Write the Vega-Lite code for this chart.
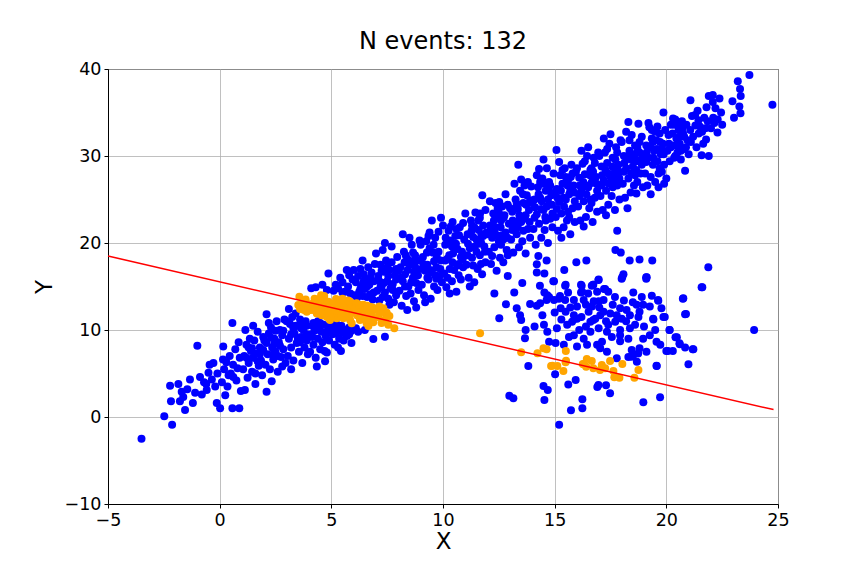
{
"$schema":"https://vega.github.io/schema/vega-lite/v6.json",
"autosize":{"type":"none"},
"width":670,"height":435,
"padding":{"left":108,"top":69,"right":86,"bottom":72},
"background":"white",
"title":{"text":"N events: 132"},
"datasets":{
"blue":[
{"x":-3.5,"y":-2.5},{"x":-2.48,"y":0.1},{"x":-2.13,"y":-0.9},{"x":-2.18,"y":1.8},{"x":-2.22,"y":3.6},
{"x":-1.85,"y":3.8},{"x":-1.78,"y":1.8},{"x":-1.55,"y":0.8},{"x":-1.63,"y":2.3},{"x":-1.33,"y":4.3},{"x":-1.1,"y":2.8},{"x":-1.45,"y":3.2},{"x":-1.2,"y":1.6},{"x":-1.7,"y":2.9},
{"x":-1.0,"y":8.2},{"x":-0.88,"y":4.6},{"x":-0.58,"y":3.1},{"x":-0.28,"y":6.2},{"x":-0.13,"y":1.6},{"x":-0.7,"y":4.0},{"x":-0.5,"y":5.1},{"x":-0.35,"y":4.3},{"x":-0.2,"y":3.5},{"x":-0.8,"y":2.6},{"x":-0.1,"y":5.0},{"x":-0.45,"y":6.0},{"x":-0.6,"y":3.8},
{"x":0.02,"y":1.0},{"x":0.57,"y":1.0},{"x":0.88,"y":1.0},{"x":0.57,"y":10.8},{"x":0.16,"y":8.1},{"x":0.61,"y":4.6},{"x":0.1,"y":4.0},{"x":0.2,"y":5.5},{"x":0.3,"y":6.3},{"x":0.35,"y":3.5},{"x":0.45,"y":7.0},{"x":0.5,"y":5.0},{"x":0.6,"y":6.0},{"x":0.7,"y":7.8},{"x":0.75,"y":4.2},{"x":0.8,"y":5.6},{"x":0.9,"y":6.8},{"x":0.95,"y":3.0},{"x":0.25,"y":2.5},{"x":0.4,"y":4.8},{"x":0.85,"y":8.6},{"x":0.15,"y":6.6},
{"x":1.13,"y":3.1},{"x":1.05,"y":5.5},{"x":1.1,"y":7.0},{"x":1.2,"y":8.3},{"x":1.25,"y":4.5},{"x":1.3,"y":6.2},{"x":1.35,"y":9.0},{"x":1.4,"y":7.6},{"x":1.45,"y":5.2},{"x":1.5,"y":6.8},{"x":1.55,"y":8.8},{"x":1.6,"y":3.8},{"x":1.65,"y":7.3},{"x":1.7,"y":9.8},{"x":1.75,"y":5.9},{"x":1.8,"y":8.0},{"x":1.85,"y":6.5},{"x":1.9,"y":4.8},{"x":1.95,"y":9.2},{"x":1.15,"y":10.0},{"x":1.5,"y":10.5},{"x":1.6,"y":5.0},{"x":1.8,"y":7.2},{"x":1.3,"y":8.0},{"x":1.95,"y":7.7},
{"x":2.1,"y":2.9},{"x":2.33,"y":4.1},{"x":2.1,"y":11.8},{"x":2.05,"y":6.0},{"x":2.1,"y":8.5},{"x":2.15,"y":7.2},{"x":2.2,"y":9.6},{"x":2.25,"y":5.5},{"x":2.3,"y":10.3},{"x":2.35,"y":8.0},{"x":2.4,"y":6.6},{"x":2.45,"y":9.0},{"x":2.5,"y":7.5},{"x":2.55,"y":11.0},{"x":2.6,"y":5.2},{"x":2.65,"y":8.6},{"x":2.7,"y":10.0},{"x":2.75,"y":6.9},{"x":2.8,"y":9.4},{"x":2.85,"y":7.8},{"x":2.9,"y":11.2},{"x":2.95,"y":6.2},{"x":2.2,"y":10.8},{"x":2.5,"y":9.9},{"x":2.7,"y":8.2},{"x":2.4,"y":7.2},{"x":2.8,"y":5.8},
{"x":3.05,"y":7.0},{"x":3.1,"y":9.0},{"x":3.15,"y":10.7},{"x":3.2,"y":8.0},{"x":3.25,"y":11.5},{"x":3.3,"y":6.5},{"x":3.35,"y":9.6},{"x":3.4,"y":11.9},{"x":3.45,"y":8.5},{"x":3.5,"y":10.5},{"x":3.55,"y":7.5},{"x":3.6,"y":11.2},{"x":3.65,"y":9.2},{"x":3.7,"y":6.2},{"x":3.75,"y":10.0},{"x":3.8,"y":8.0},{"x":3.85,"y":11.0},{"x":3.9,"y":9.5},{"x":3.95,"y":7.2},{"x":3.1,"y":12.4},{"x":3.3,"y":10.2},{"x":3.5,"y":9.0},{"x":3.7,"y":10.8},{"x":3.9,"y":10.5},{"x":3.2,"y":5.5},{"x":3.6,"y":8.6},{"x":3.0,"y":11.0},
{"x":4.05,"y":7.5},{"x":4.1,"y":9.5},{"x":4.15,"y":10.5},{"x":4.2,"y":8.3},{"x":4.3,"y":6.8},{"x":4.35,"y":5.8},{"x":4.4,"y":9.0},{"x":4.45,"y":10.2},{"x":4.5,"y":7.8},{"x":4.55,"y":9.8},{"x":4.6,"y":8.6},{"x":4.65,"y":10.6},{"x":4.72,"y":6.4},{"x":4.75,"y":9.3},{"x":4.8,"y":7.4},{"x":4.85,"y":10.4},{"x":4.87,"y":16.5},{"x":4.9,"y":8.8},{"x":4.95,"y":9.9},{"x":4.3,"y":14.9},{"x":4.6,"y":15.2},{"x":4.8,"y":14.6},{"x":4.2,"y":10.8},{"x":4.7,"y":7.6},{"x":4.4,"y":11.0},{"x":4.1,"y":14.8},
{"x":5.43,"y":7.6},{"x":5.69,"y":16.9},{"x":5.05,"y":9.5},{"x":5.1,"y":14.5},{"x":5.15,"y":8.3},{"x":5.2,"y":15.2},{"x":5.25,"y":10.2},{"x":5.3,"y":14.8},{"x":5.35,"y":9.0},{"x":5.4,"y":16.0},{"x":5.45,"y":10.5},{"x":5.5,"y":15.5},{"x":5.55,"y":8.8},{"x":5.6,"y":14.4},{"x":5.65,"y":10.0},{"x":5.7,"y":9.3},{"x":5.75,"y":15.0},{"x":5.8,"y":10.3},{"x":5.85,"y":14.2},{"x":5.9,"y":8.5},{"x":5.95,"y":15.8},{"x":5.0,"y":10.6},{"x":5.3,"y":8.0},{"x":5.6,"y":9.6},{"x":5.9,"y":9.9},{"x":5.2,"y":10.8},{"x":5.5,"y":14.3},{"x":5.8,"y":16.3},
{"x":6.88,"y":8.97},{"x":6.05,"y":14.0},{"x":6.1,"y":15.5},{"x":6.2,"y":16.2},{"x":6.25,"y":14.4},{"x":6.3,"y":17.0},{"x":6.35,"y":15.0},{"x":6.4,"y":13.9},{"x":6.45,"y":16.4},{"x":6.5,"y":14.7},{"x":6.55,"y":15.8},{"x":6.6,"y":13.8},{"x":6.65,"y":17.2},{"x":6.7,"y":15.2},{"x":6.75,"y":14.1},{"x":6.8,"y":16.6},{"x":6.85,"y":13.5},{"x":6.9,"y":15.6},{"x":6.95,"y":17.6},{"x":6.2,"y":9.8},{"x":6.5,"y":10.0},{"x":6.0,"y":16.9},{"x":6.4,"y":18.0},{"x":6.75,"y":16.0},{"x":6.15,"y":13.7},
{"x":7.4,"y":20.0},{"x":7.4,"y":9.23},{"x":7.05,"y":14.5},{"x":7.1,"y":16.2},{"x":7.15,"y":13.4},{"x":7.2,"y":17.5},{"x":7.25,"y":15.0},{"x":7.3,"y":13.8},{"x":7.35,"y":16.7},{"x":7.4,"y":14.3},{"x":7.45,"y":18.0},{"x":7.5,"y":15.6},{"x":7.55,"y":13.6},{"x":7.6,"y":16.9},{"x":7.65,"y":14.8},{"x":7.7,"y":17.8},{"x":7.75,"y":15.3},{"x":7.8,"y":13.2},{"x":7.85,"y":16.3},{"x":7.9,"y":14.0},{"x":7.95,"y":18.4},{"x":7.0,"y":18.8},{"x":7.3,"y":19.2},{"x":7.6,"y":12.9},{"x":7.7,"y":19.6},{"x":7.2,"y":14.9},{"x":7.5,"y":17.2},{"x":7.9,"y":15.8},
{"x":8.05,"y":14.5},{"x":8.1,"y":17.2},{"x":8.15,"y":12.8},{"x":8.2,"y":15.6},{"x":8.25,"y":19.0},{"x":8.3,"y":16.4},{"x":8.35,"y":13.9},{"x":8.4,"y":18.2},{"x":8.45,"y":15.0},{"x":8.5,"y":17.5},{"x":8.55,"y":14.2},{"x":8.6,"y":19.8},{"x":8.65,"y":16.0},{"x":8.7,"y":13.3},{"x":8.75,"y":18.6},{"x":8.8,"y":15.4},{"x":8.85,"y":17.0},{"x":8.9,"y":14.6},{"x":8.95,"y":20.3},{"x":8.0,"y":16.8},{"x":8.2,"y":21.0},{"x":8.4,"y":12.3},{"x":8.6,"y":17.9},{"x":8.8,"y":12.6},{"x":8.3,"y":15.0},{"x":8.7,"y":16.7},{"x":8.5,"y":20.6},{"x":8.9,"y":18.0},
{"x":9.05,"y":15.2},{"x":9.1,"y":18.4},{"x":9.15,"y":14.0},{"x":9.2,"y":16.8},{"x":9.25,"y":20.2},{"x":9.3,"y":17.5},{"x":9.35,"y":15.8},{"x":9.4,"y":19.4},{"x":9.45,"y":13.6},{"x":9.5,"y":22.6},{"x":9.5,"y":16.6},{"x":9.55,"y":18.9},{"x":9.6,"y":15.0},{"x":9.65,"y":20.6},{"x":9.7,"y":17.2},{"x":9.75,"y":14.6},{"x":9.8,"y":19.0},{"x":9.85,"y":16.2},{"x":9.91,"y":22.9},{"x":9.9,"y":18.0},{"x":9.95,"y":15.5},{"x":9.0,"y":19.8},{"x":9.2,"y":13.2},{"x":9.4,"y":21.2},{"x":9.6,"y":17.9},{"x":9.8,"y":21.3},{"x":9.3,"y":16.0},{"x":9.7,"y":15.9},{"x":9.1,"y":17.0},
{"x":10.05,"y":16.5},{"x":10.1,"y":19.8},{"x":10.15,"y":14.9},{"x":10.2,"y":18.2},{"x":10.25,"y":21.4},{"x":10.3,"y":17.0},{"x":10.35,"y":20.3},{"x":10.43,"y":22.4},{"x":10.4,"y":15.6},{"x":10.45,"y":18.8},{"x":10.5,"y":16.9},{"x":10.55,"y":20.8},{"x":10.6,"y":14.4},{"x":10.65,"y":19.3},{"x":10.7,"y":17.6},{"x":10.75,"y":21.8},{"x":10.8,"y":15.8},{"x":10.85,"y":19.0},{"x":10.9,"y":17.2},{"x":10.95,"y":20.4},{"x":11.0,"y":23.4},{"x":10.0,"y":22.0},{"x":10.2,"y":16.0},{"x":10.4,"y":19.6},{"x":10.6,"y":21.6},{"x":10.8,"y":18.4},{"x":10.3,"y":14.2},{"x":10.7,"y":16.3},{"x":10.9,"y":22.3},{"x":10.1,"y":18.0},
{"x":11.05,"y":17.5},{"x":11.1,"y":21.0},{"x":11.15,"y":16.0},{"x":11.2,"y":19.4},{"x":11.25,"y":22.6},{"x":11.3,"y":18.3},{"x":11.35,"y":20.7},{"x":11.4,"y":15.5},{"x":11.45,"y":23.5},{"x":11.5,"y":19.0},{"x":11.55,"y":17.0},{"x":11.6,"y":21.5},{"x":11.66,"y":23.4},{"x":11.65,"y":18.6},{"x":11.7,"y":20.1},{"x":11.75,"y":16.4},{"x":11.76,"y":25.5},{"x":11.8,"y":22.0},{"x":11.85,"y":19.6},{"x":11.9,"y":17.8},{"x":11.95,"y":21.2},{"x":11.1,"y":18.6},{"x":11.3,"y":22.0},{"x":11.5,"y":20.4},{"x":11.7,"y":17.6},{"x":11.9,"y":23.8},{"x":11.2,"y":15.0},{"x":11.6,"y":19.9},{"x":11.4,"y":21.8},{"x":11.8,"y":20.8},
{"x":12.05,"y":19.0},{"x":12.1,"y":24.8},{"x":12.1,"y":22.0},{"x":12.15,"y":17.6},{"x":12.2,"y":20.6},{"x":12.25,"y":23.4},{"x":12.3,"y":19.5},{"x":12.35,"y":21.8},{"x":12.4,"y":16.8},{"x":12.45,"y":24.0},{"x":12.52,"y":24.7},{"x":12.5,"y":20.2},{"x":12.55,"y":18.3},{"x":12.6,"y":22.6},{"x":12.65,"y":20.9},{"x":12.7,"y":17.8},{"x":12.75,"y":23.2},{"x":12.8,"y":21.2},{"x":12.85,"y":19.2},{"x":12.9,"y":24.4},{"x":12.95,"y":22.2},{"x":12.0,"y":21.0},{"x":12.2,"y":18.5},{"x":12.4,"y":22.9},{"x":12.6,"y":19.8},{"x":12.8,"y":25.6},{"x":12.3,"y":21.2},{"x":12.7,"y":20.4},{"x":12.9,"y":18.6},{"x":12.5,"y":23.5},
{"x":13.05,"y":20.4},{"x":13.1,"y":23.6},{"x":13.15,"y":18.9},{"x":13.2,"y":22.0},{"x":13.25,"y":25.0},{"x":13.37,"y":29.0},{"x":13.3,"y":21.0},{"x":13.35,"y":23.9},{"x":13.4,"y":19.5},{"x":13.45,"y":26.0},{"x":13.5,"y":22.4},{"x":13.55,"y":20.2},{"x":13.6,"y":24.6},{"x":13.65,"y":22.8},{"x":13.7,"y":18.8},{"x":13.75,"y":25.5},{"x":13.8,"y":21.6},{"x":13.85,"y":23.8},{"x":13.9,"y":20.6},{"x":13.95,"y":26.5},{"x":13.0,"y":24.0},{"x":13.2,"y":26.8},{"x":13.4,"y":22.6},{"x":13.6,"y":21.4},{"x":13.8,"y":27.0},{"x":13.1,"y":21.5},{"x":13.3,"y":24.5},{"x":13.5,"y":27.3},{"x":13.7,"y":23.2},{"x":13.9,"y":24.9},
{"x":14.05,"y":21.6},{"x":14.1,"y":25.0},{"x":14.15,"y":19.8},{"x":14.2,"y":23.3},{"x":14.25,"y":26.4},{"x":14.3,"y":22.2},{"x":14.35,"y":25.2},{"x":14.4,"y":20.6},{"x":14.45,"y":27.4},{"x":14.5,"y":29.6},{"x":14.5,"y":23.8},{"x":14.55,"y":21.5},{"x":14.6,"y":26.0},{"x":14.65,"y":24.2},{"x":14.7,"y":20.0},{"x":14.75,"y":27.0},{"x":14.8,"y":22.8},{"x":14.85,"y":25.5},{"x":14.9,"y":21.8},{"x":14.95,"y":28.0},{"x":14.0,"y":24.6},{"x":14.2,"y":27.8},{"x":14.4,"y":23.9},{"x":14.6,"y":22.6},{"x":14.8,"y":26.6},{"x":14.3,"y":28.5},{"x":14.7,"y":25.0},{"x":14.9,"y":23.4},{"x":14.1,"y":22.9},{"x":14.5,"y":26.8},
{"x":15.08,"y":30.7},{"x":15.05,"y":23.0},{"x":15.1,"y":26.2},{"x":15.15,"y":21.4},{"x":15.2,"y":24.7},{"x":15.25,"y":27.8},{"x":15.3,"y":23.4},{"x":15.35,"y":26.8},{"x":15.4,"y":21.8},{"x":15.45,"y":28.6},{"x":15.5,"y":25.0},{"x":15.55,"y":22.6},{"x":15.6,"y":27.2},{"x":15.65,"y":25.6},{"x":15.7,"y":21.0},{"x":15.75,"y":29.0},{"x":15.8,"y":24.0},{"x":15.85,"y":26.6},{"x":15.9,"y":22.4},{"x":15.95,"y":28.2},{"x":15.0,"y":25.8},{"x":15.2,"y":29.3},{"x":15.4,"y":25.2},{"x":15.6,"y":23.6},{"x":15.8,"y":28.0},{"x":15.3,"y":20.6},{"x":15.7,"y":26.0},{"x":15.9,"y":24.8},{"x":15.1,"y":23.9},{"x":15.5,"y":27.6},
{"x":16.05,"y":24.2},{"x":16.1,"y":27.5},{"x":16.15,"y":22.6},{"x":16.2,"y":26.0},{"x":16.25,"y":29.1},{"x":16.3,"y":24.8},{"x":16.35,"y":27.9},{"x":16.4,"y":23.0},{"x":16.45,"y":30.0},{"x":16.5,"y":26.4},{"x":16.55,"y":24.0},{"x":16.6,"y":28.4},{"x":16.65,"y":26.9},{"x":16.7,"y":22.4},{"x":16.75,"y":29.8},{"x":16.8,"y":25.2},{"x":16.85,"y":27.6},{"x":16.9,"y":23.6},{"x":16.95,"y":30.4},{"x":16.0,"y":28.6},{"x":16.2,"y":30.6},{"x":16.4,"y":26.6},{"x":16.6,"y":25.0},{"x":16.8,"y":29.2},{"x":16.3,"y":21.9},{"x":16.7,"y":27.2},{"x":16.9,"y":26.0},{"x":16.1,"y":25.4},{"x":16.5,"y":31.0},{"x":16.65,"y":28.6},
{"x":17.05,"y":25.4},{"x":17.1,"y":28.8},{"x":17.15,"y":23.8},{"x":17.2,"y":27.2},{"x":17.25,"y":30.4},{"x":17.3,"y":26.0},{"x":17.35,"y":29.2},{"x":17.4,"y":24.4},{"x":17.45,"y":31.4},{"x":17.5,"y":27.6},{"x":17.55,"y":25.4},{"x":17.6,"y":29.8},{"x":17.65,"y":28.0},{"x":17.7,"y":23.8},{"x":17.75,"y":31.0},{"x":17.8,"y":26.6},{"x":17.8,"y":21.4},{"x":17.85,"y":29.0},{"x":17.9,"y":25.0},{"x":17.95,"y":31.8},{"x":17.0,"y":30.0},{"x":17.2,"y":32.0},{"x":17.4,"y":28.0},{"x":17.6,"y":26.4},{"x":17.8,"y":30.4},{"x":17.3,"y":23.2},{"x":17.7,"y":28.6},{"x":17.9,"y":27.4},{"x":17.1,"y":26.6},{"x":17.5,"y":32.5},
{"x":18.05,"y":26.8},{"x":18.1,"y":30.0},{"x":18.15,"y":25.2},{"x":18.26,"y":24.0},{"x":18.2,"y":28.6},{"x":18.3,"y":33.9},{"x":18.3,"y":27.4},{"x":18.35,"y":30.6},{"x":18.4,"y":25.8},{"x":18.45,"y":32.4},{"x":18.5,"y":28.8},{"x":18.55,"y":26.6},{"x":18.6,"y":31.2},{"x":18.66,"y":25.7},{"x":18.65,"y":29.4},{"x":18.75,"y":33.7},{"x":18.7,"y":27.0},{"x":18.8,"y":30.4},{"x":18.85,"y":28.0},{"x":18.9,"y":32.2},{"x":18.95,"y":26.4},{"x":18.0,"y":31.6},{"x":18.2,"y":32.8},{"x":18.4,"y":29.6},{"x":18.6,"y":27.8},{"x":18.8,"y":31.6},{"x":18.5,"y":30.2},{"x":18.9,"y":29.0},{"x":18.1,"y":28.2},{"x":18.7,"y":31.0},
{"x":19.05,"y":28.0},{"x":19.1,"y":31.2},{"x":19.15,"y":26.6},{"x":19.24,"y":33.3},{"x":19.2,"y":29.8},{"x":19.3,"y":27.6},{"x":19.35,"y":32.0},{"x":19.4,"y":29.0},{"x":19.45,"y":30.6},{"x":19.5,"y":27.0},{"x":19.55,"y":31.8},{"x":19.6,"y":29.4},{"x":19.65,"y":26.4},{"x":19.7,"y":32.6},{"x":19.75,"y":30.2},{"x":19.8,"y":28.2},{"x":19.87,"y":35.0},{"x":19.85,"y":31.4},{"x":19.9,"y":29.0},{"x":19.95,"y":33.0},{"x":19.0,"y":30.0},{"x":19.2,"y":33.8},{"x":19.4,"y":31.6},{"x":19.6,"y":33.4},{"x":19.8,"y":30.8},{"x":19.3,"y":25.6},{"x":19.7,"y":28.6},{"x":19.9,"y":26.8},{"x":19.1,"y":29.3},{"x":19.5,"y":32.8},
{"x":20.0,"y":27.4},{"x":20.05,"y":30.6},{"x":20.1,"y":32.4},{"x":20.15,"y":29.4},{"x":20.2,"y":33.6},{"x":20.3,"y":34.3},{"x":20.25,"y":31.2},{"x":20.35,"y":29.8},{"x":20.4,"y":34.2},{"x":20.45,"y":32.0},{"x":20.5,"y":30.4},{"x":20.55,"y":33.0},{"x":20.6,"y":31.4},{"x":20.7,"y":34.0},{"x":20.65,"y":29.6},{"x":20.75,"y":32.6},{"x":20.84,"y":28.3},{"x":20.8,"y":30.8},{"x":20.9,"y":33.6},{"x":20.95,"y":31.8},{"x":20.2,"y":31.0},{"x":20.6,"y":33.6},{"x":20.4,"y":30.0},{"x":20.8,"y":32.2},{"x":21.0,"y":30.2},
{"x":21.08,"y":36.4},{"x":21.07,"y":33.0},{"x":21.29,"y":34.7},{"x":21.44,"y":34.1},{"x":21.5,"y":33.4},{"x":21.6,"y":32.8},{"x":21.3,"y":33.5},{"x":21.58,"y":30.1},{"x":21.9,"y":30.0},{"x":21.78,"y":31.9},{"x":21.9,"y":36.9},{"x":21.1,"y":31.6},{"x":21.2,"y":32.2},{"x":21.35,"y":31.0},{"x":21.4,"y":35.2},{"x":21.7,"y":34.4},{"x":21.75,"y":33.2},{"x":21.8,"y":35.6},{"x":21.15,"y":34.6},{"x":21.65,"y":31.4},{"x":21.45,"y":32.6},{"x":21.85,"y":34.0},
{"x":22.08,"y":37.0},{"x":22.38,"y":36.6},{"x":22.08,"y":36.2},{"x":22.2,"y":35.5},{"x":22.1,"y":34.4},{"x":22.29,"y":32.7},{"x":22.96,"y":36.3},{"x":23.03,"y":34.4},{"x":22.0,"y":33.2},{"x":22.15,"y":33.8},{"x":22.3,"y":34.2},{"x":22.45,"y":35.0},{"x":22.5,"y":33.6},
{"x":23.72,"y":39.3},{"x":23.2,"y":38.6},{"x":23.3,"y":37.7},{"x":23.33,"y":36.9},{"x":24.75,"y":35.9},{"x":23.27,"y":35.7},{"x":23.32,"y":34.9},
{"x":8.12,"y":16.0},{"x":8.28,"y":17.8},{"x":8.42,"y":16.9},{"x":8.58,"y":15.5},{"x":8.72,"y":17.4},{"x":8.88,"y":16.3},{"x":8.33,"y":18.6},{"x":8.66,"y":18.9},
{"x":9.12,"y":17.6},{"x":9.28,"y":18.9},{"x":9.42,"y":16.9},{"x":9.58,"y":19.8},{"x":9.72,"y":18.4},{"x":9.88,"y":17.0},{"x":9.35,"y":20.8},{"x":9.65,"y":16.3},
{"x":10.12,"y":20.6},{"x":10.28,"y":18.6},{"x":10.42,"y":17.8},{"x":10.58,"y":19.9},{"x":10.72,"y":20.9},{"x":10.88,"y":18.1},{"x":10.35,"y":21.9},{"x":10.65,"y":17.4},
{"x":11.12,"y":19.9},{"x":11.28,"y":21.4},{"x":11.42,"y":19.6},{"x":11.58,"y":22.6},{"x":11.72,"y":21.0},{"x":11.88,"y":19.0},{"x":11.35,"y":17.4},{"x":11.65,"y":22.9},
{"x":12.12,"y":21.4},{"x":12.28,"y":22.6},{"x":12.42,"y":20.9},{"x":12.58,"y":21.8},{"x":12.72,"y":22.9},{"x":12.88,"y":20.6},{"x":12.35,"y":24.6},{"x":12.65,"y":24.2},
{"x":13.12,"y":22.6},{"x":13.28,"y":24.0},{"x":13.42,"y":23.2},{"x":13.58,"y":25.6},{"x":13.72,"y":24.4},{"x":13.88,"y":22.4},{"x":13.35,"y":21.8},{"x":13.65,"y":26.6},
{"x":14.12,"y":24.1},{"x":14.28,"y":25.6},{"x":14.42,"y":24.8},{"x":14.58,"y":23.0},{"x":14.72,"y":26.2},{"x":14.88,"y":24.4},{"x":14.35,"y":27.0},{"x":14.65,"y":28.6},
{"x":15.12,"y":25.2},{"x":15.28,"y":26.0},{"x":15.42,"y":24.2},{"x":15.58,"y":26.6},{"x":15.72,"y":27.6},{"x":15.88,"y":25.8},{"x":15.35,"y":28.4},{"x":15.65,"y":23.0},
{"x":16.12,"y":26.6},{"x":16.28,"y":27.0},{"x":16.42,"y":25.6},{"x":16.58,"y":27.8},{"x":16.72,"y":28.2},{"x":16.88,"y":26.8},{"x":16.35,"y":29.4},{"x":16.65,"y":24.6},
{"x":17.12,"y":27.8},{"x":17.28,"y":28.4},{"x":17.42,"y":26.8},{"x":17.58,"y":28.8},{"x":17.72,"y":29.6},{"x":17.88,"y":28.2},{"x":17.35,"y":30.8},{"x":17.65,"y":27.2},
{"x":18.12,"y":29.2},{"x":18.28,"y":29.8},{"x":18.42,"y":28.0},{"x":18.58,"y":30.0},{"x":18.72,"y":30.6},{"x":18.88,"y":29.6},{"x":18.35,"y":31.8},{"x":18.65,"y":28.4},
{"x":19.12,"y":30.4},{"x":19.28,"y":31.0},{"x":19.42,"y":29.8},{"x":19.58,"y":30.8},{"x":19.72,"y":31.6},{"x":19.88,"y":30.2},{"x":19.35,"y":33.0},{"x":19.65,"y":28.0},
{"x":20.12,"y":31.4},{"x":20.28,"y":32.6},{"x":20.42,"y":31.2},{"x":20.58,"y":32.2},{"x":20.72,"y":33.2},{"x":20.88,"y":31.0},{"x":20.35,"y":33.6},{"x":20.65,"y":30.6},
{"x":1.2,"y":6.8},{"x":1.45,"y":7.9},{"x":1.7,"y":6.4},{"x":2.0,"y":8.8},{"x":2.3,"y":9.1},{"x":2.6,"y":7.0},{"x":2.85,"y":9.9},{"x":2.45,"y":8.4},
{"x":3.2,"y":9.5},{"x":3.4,"y":10.5},{"x":3.65,"y":10.2},{"x":3.9,"y":8.8},{"x":4.25,"y":9.9},{"x":4.5,"y":10.8},{"x":4.8,"y":9.8},{"x":4.15,"y":9.2},
{"x":5.2,"y":9.6},{"x":5.5,"y":9.7},{"x":5.8,"y":9.5},{"x":6.1,"y":10.2},{"x":6.3,"y":14.7},{"x":6.6,"y":15.0},{"x":6.9,"y":14.3},{"x":6.45,"y":15.6},
{"x":7.15,"y":15.6},{"x":7.35,"y":15.4},{"x":7.55,"y":16.2},{"x":7.75,"y":14.6},{"x":7.9,"y":17.0},{"x":7.25,"y":16.8},
{"x":17.72,"y":19.2},{"x":17.96,"y":18.9},{"x":18.36,"y":18.0},{"x":18.8,"y":18.1},{"x":19.37,"y":18.0},{"x":21.88,"y":17.2},{"x":15.97,"y":17.8},{"x":16.42,"y":18.0},{"x":14.27,"y":18.5},{"x":14.64,"y":18.0},{"x":14.2,"y":17.55},{"x":14.2,"y":16.6},{"x":14.54,"y":16.5},{"x":15.43,"y":16.9},{"x":13.55,"y":15.4},{"x":14.94,"y":15.6},{"x":15.47,"y":15.1},{"x":14.34,"y":15.1},{"x":13.19,"y":14.3},{"x":14.54,"y":14.3},{"x":14.64,"y":13.45},{"x":14.75,"y":13.8},{"x":15.24,"y":13.9},{"x":12.82,"y":12.95},{"x":14.2,"y":12.8},{"x":14.35,"y":13.07},{"x":13.45,"y":11.7},{"x":13.5,"y":11.15},{"x":12.52,"y":11.34},{"x":13.67,"y":9.05},{"x":13.82,"y":5.86},{"x":12.97,"y":2.45},{"x":13.15,"y":2.15},{"x":14.5,"y":3.56},{"x":14.69,"y":3.1},{"x":14.54,"y":1.95},{"x":15.02,"y":4.9},{"x":15.61,"y":3.75},{"x":15.94,"y":4.25},{"x":15.2,"y":-0.9},{"x":15.73,"y":0.77},{"x":16.24,"y":1.0},{"x":16.24,"y":2.03},{"x":16.91,"y":3.45},{"x":17.3,"y":3.64},{"x":17.48,"y":2.72},{"x":18.97,"y":1.69},{"x":19.72,"y":2.26},{"x":19.57,"y":5.86},{"x":20.99,"y":6.06},{"x":21.21,"y":7.78},{"x":23.93,"y":10.0},{"x":21.61,"y":14.9},{"x":20.76,"y":13.64},{"x":20.88,"y":11.84},{"x":20.14,"y":10.0},{"x":20.47,"y":9.16},{"x":20.6,"y":8.36},{"x":20.84,"y":8.0},{"x":20.29,"y":7.6},{"x":20.0,"y":7.6},{"x":19.87,"y":11.5},{"x":19.64,"y":13.37},{"x":19.35,"y":13.95},{"x":19.1,"y":16.05},{"x":18.52,"y":14.3},{"x":18.03,"y":16.1},{"x":18.08,"y":16.4},{"x":16.96,"y":15.75},{"x":16.66,"y":15.1},{"x":16.21,"y":15.1},{"x":16.18,"y":14.3},{"x":16.5,"y":14.2},{"x":17.21,"y":14.7},{"x":17.4,"y":14.4},{"x":15.47,"y":13.45},{"x":16.73,"y":11.15},{"x":19.42,"y":11.2},{"x":18.75,"y":11.5},{"x":18.45,"y":6.93},{"x":18.68,"y":6.36},{"x":17.78,"y":6.75},{"x":16.96,"y":3.68},{"x":16.73,"y":15.2},{"x":19.12,"y":16.05},
{"x":14.97,"y":15.6},{"x":15.49,"y":15.2},{"x":16.18,"y":15.2},{"x":16.23,"y":14.4},{"x":16.72,"y":15.2},{"x":16.97,"y":15.8},{"x":17.26,"y":14.7},{"x":18.0,"y":15.9},{"x":19.1,"y":15.9},{"x":17.93,"y":12.5},{"x":17.78,"y":11.7},{"x":18.22,"y":12.3},{"x":18.37,"y":11.7},{"x":18.67,"y":12.9},{"x":18.8,"y":12.1},{"x":18.96,"y":12.9},{"x":19.26,"y":12.7},{"x":19.63,"y":13.45},{"x":19.78,"y":12.5},{"x":19.93,"y":11.5},{"x":19.41,"y":11.3},{"x":20.74,"y":13.6},{"x":20.84,"y":11.8},{"x":21.58,"y":14.9},{"x":20.15,"y":10.0},{"x":20.41,"y":9.16},{"x":20.59,"y":8.47},{"x":21.18,"y":7.8},{"x":20.07,"y":7.6},{"x":19.73,"y":8.3},{"x":19.56,"y":8.65},{"x":19.26,"y":9.4},{"x":18.96,"y":9.0},{"x":18.8,"y":7.9},{"x":18.52,"y":7.1},{"x":18.3,"y":6.9},{"x":18.45,"y":7.7},{"x":19.56,"y":5.9},{"x":19.11,"y":7.5},{"x":17.93,"y":8.7},{"x":17.56,"y":9.2},{"x":17.12,"y":8.65},{"x":17.34,"y":9.8},{"x":16.97,"y":10.2},{"x":16.6,"y":9.8},{"x":16.6,"y":10.96},{"x":16.82,"y":11.3},{"x":17.04,"y":11.7},{"x":17.19,"y":12.1},{"x":17.49,"y":11.9},{"x":16.52,"y":12.1},{"x":16.67,"y":12.7},{"x":16.75,"y":13.3},{"x":16.97,"y":13.3},{"x":17.19,"y":13.45},{"x":16.3,"y":13.45},{"x":15.86,"y":13.45},{"x":16.0,"y":12.7},{"x":15.86,"y":11.7},{"x":15.78,"y":10.96},{"x":15.56,"y":10.6},{"x":15.49,"y":12.1},{"x":15.27,"y":12.5},{"x":15.19,"y":13.6},{"x":14.97,"y":13.45},{"x":14.67,"y":14.0},{"x":14.45,"y":11.7},{"x":14.52,"y":10.6},{"x":14.67,"y":9.8},{"x":14.75,"y":8.65},{"x":15.04,"y":8.5},{"x":15.41,"y":8.3},{"x":15.64,"y":9.2},{"x":15.86,"y":9.4},{"x":16.0,"y":8.1},{"x":16.3,"y":9.0},{"x":16.45,"y":8.3},{"x":16.9,"y":8.3},{"x":17.04,"y":7.9},{"x":17.34,"y":7.5},{"x":17.93,"y":10.0},{"x":17.71,"y":10.96},{"x":18.37,"y":10.2},{"x":18.3,"y":9.0},{"x":17.93,"y":9.4},{"x":18.74,"y":7.3},
{"x":16.2,"y":11.5},{"x":16.4,"y":10.4},{"x":15.7,"y":12.6},{"x":15.3,"y":11.2},{"x":15.1,"y":10.2},{"x":15.0,"y":12.0},{"x":18.1,"y":13.4},{"x":18.6,"y":10.6},{"x":19.0,"y":10.4},{"x":18.2,"y":11.0},{"x":17.6,"y":12.9},{"x":17.4,"y":10.6},{"x":16.1,"y":10.0},{"x":15.9,"y":11.3},{"x":19.5,"y":10.0},{"x":13.9,"y":13.0},{"x":14.1,"y":10.4},{"x":13.7,"y":10.0},{"x":13.3,"y":12.5},{"x":12.3,"y":14.2},{"x":12.9,"y":16.2},
{"x":16.0,"y":11.3},{"x":16.4,"y":12.9},{"x":17.0,"y":12.6},{"x":17.3,"y":11.0},{"x":18.0,"y":11.3},{"x":18.5,"y":13.2},{"x":17.7,"y":13.8},{"x":16.9,"y":14.4},{"x":15.6,"y":14.3},{"x":18.9,"y":13.8}
],
"orange":[
{"x":3.57,"y":13.83},{"x":3.52,"y":12.87},{"x":3.78,"y":12.3},{"x":3.9,"y":12.1},{"x":3.7,"y":13.0},{"x":3.85,"y":13.5},{"x":3.6,"y":12.4},{"x":3.95,"y":12.7},
{"x":4.05,"y":12.3},{"x":4.19,"y":12.3},{"x":4.35,"y":11.9},{"x":4.54,"y":14.0},{"x":4.57,"y":11.7},{"x":4.68,"y":13.9},{"x":4.8,"y":11.5},{"x":4.87,"y":13.25},{"x":4.94,"y":11.15},{"x":4.1,"y":13.0},{"x":4.3,"y":12.8},{"x":4.45,"y":13.4},{"x":4.6,"y":12.4},{"x":4.75,"y":12.7},{"x":4.9,"y":12.2},{"x":4.25,"y":13.6},{"x":4.4,"y":12.2},{"x":4.7,"y":13.2},{"x":4.85,"y":12.0},{"x":4.5,"y":13.0},
{"x":5.1,"y":12.0},{"x":5.21,"y":13.56},{"x":5.24,"y":11.34},{"x":5.39,"y":12.68},{"x":5.54,"y":11.34},{"x":5.61,"y":13.07},{"x":5.84,"y":13.25},{"x":5.84,"y":11.15},{"x":5.91,"y":10.77},{"x":5.05,"y":13.0},{"x":5.15,"y":12.6},{"x":5.3,"y":11.8},{"x":5.35,"y":13.2},{"x":5.45,"y":12.3},{"x":5.5,"y":13.6},{"x":5.6,"y":12.0},{"x":5.7,"y":12.7},{"x":5.75,"y":11.6},{"x":5.8,"y":12.4},{"x":5.95,"y":12.0},{"x":5.25,"y":12.9},{"x":5.4,"y":11.9},{"x":5.65,"y":11.9},{"x":5.9,"y":13.0},{"x":5.55,"y":12.6},{"x":5.0,"y":11.8},{"x":5.2,"y":12.2},{"x":5.75,"y":13.4},{"x":5.45,"y":11.6},{"x":5.85,"y":11.9},
{"x":6.13,"y":13.07},{"x":6.43,"y":12.9},{"x":6.73,"y":12.68},{"x":6.73,"y":11.53},{"x":6.58,"y":10.77},{"x":6.28,"y":11.15},{"x":6.66,"y":10.46},{"x":6.05,"y":12.5},{"x":6.2,"y":12.2},{"x":6.3,"y":12.7},{"x":6.35,"y":11.8},{"x":6.5,"y":12.3},{"x":6.55,"y":11.5},{"x":6.6,"y":12.8},{"x":6.7,"y":12.2},{"x":6.8,"y":11.9},{"x":6.85,"y":12.6},{"x":6.9,"y":11.3},{"x":6.95,"y":12.4},{"x":6.15,"y":11.7},{"x":6.4,"y":11.4},{"x":6.45,"y":12.1},{"x":6.25,"y":12.9},{"x":6.65,"y":11.2},{"x":6.88,"y":10.9},
{"x":7.03,"y":12.3},{"x":7.33,"y":12.5},{"x":7.48,"y":11.99},{"x":7.4,"y":11.15},{"x":7.82,"y":10.2},{"x":7.36,"y":11.15},{"x":7.45,"y":11.9},{"x":7.1,"y":11.5},{"x":7.2,"y":12.0},{"x":7.25,"y":10.8},{"x":7.6,"y":11.6},{"x":7.15,"y":12.7},{"x":7.55,"y":10.6},
{"x":11.66,"y":9.62},{"x":13.5,"y":7.44},{"x":14.23,"y":7.32},{"x":14.5,"y":7.9},{"x":14.64,"y":7.78},{"x":14.84,"y":5.86},{"x":15.12,"y":5.86},{"x":15.39,"y":5.29},{"x":15.5,"y":7.59},{"x":15.51,"y":6.47},{"x":16.26,"y":6.09},{"x":16.44,"y":6.67},{"x":16.66,"y":6.44},{"x":16.41,"y":5.78},{"x":16.73,"y":5.6},{"x":17.11,"y":5.98},{"x":17.26,"y":5.6},{"x":17.03,"y":5.4},{"x":17.48,"y":6.44},{"x":17.63,"y":5.29},{"x":17.67,"y":4.56},{"x":17.9,"y":4.52},{"x":18.03,"y":6.09},{"x":18.57,"y":4.52},{"x":18.75,"y":5.4},{"x":14.9,"y":5.9},{"x":15.49,"y":6.3},{"x":16.3,"y":6.05}
],
"fit":[{"x":-5,"y":18.5},{"x":24.8,"y":0.85}]
},
"layer":[
{"data":{"name":"blue"},"mark":{"type":"circle","color":"#0000ff","opacity":1,"size":64},
 "encoding":{
  "x":{"field":"x","type":"quantitative","scale":{"domain":[-5,25],"nice":false,"zero":false},"axis":{"title":"X","values":[-5,0,5,10,15,20,25]}},
  "y":{"field":"y","type":"quantitative","scale":{"domain":[-10,40],"nice":false,"zero":false},"axis":{"title":"Y","values":[-10,0,10,20,30,40]}}}},
{"data":{"name":"orange"},"mark":{"type":"circle","color":"#ffa500","opacity":1,"size":64},
 "encoding":{"x":{"field":"x","type":"quantitative"},"y":{"field":"y","type":"quantitative"}}},
{"data":{"name":"fit"},"mark":{"type":"line","color":"#ff0000","strokeWidth":1.5},
 "encoding":{"x":{"field":"x","type":"quantitative"},"y":{"field":"y","type":"quantitative"}}}
],
"config":{
 "view":{"stroke":"black","strokeWidth":1},
 "axis":{"domainColor":"black","domainWidth":1,"tickColor":"black","tickSize":4,"labelColor":"black","titleColor":"black","labelFont":"DejaVu Sans","titleFont":"DejaVu Sans","labelFontSize":17.5,"titleFontSize":23,"titleFontWeight":"normal","gridColor":"#b0b0b0","gridWidth":0.8,"labelPadding":3,"labelFlush":false,"labelOverlap":false},
 "axisX":{"titlePadding":2},
 "axisY":{"titlePadding":8},
 "title":{"font":"DejaVu Sans","fontSize":24,"fontWeight":"normal","color":"black","offset":6}
}
}
